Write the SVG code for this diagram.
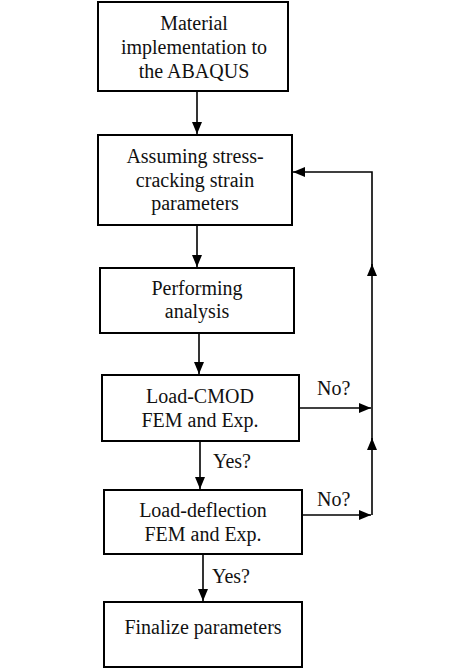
<svg xmlns="http://www.w3.org/2000/svg" width="474" height="669" viewBox="0 0 474 669">
<style>
.box{fill:#fff;stroke:#000;stroke-width:2}
.t{font-family:'Liberation Serif','DejaVu Serif',serif;font-size:20px;fill:#111;text-anchor:middle}
.l{font-family:'Liberation Serif','DejaVu Serif',serif;font-size:20px;fill:#111}
.c{fill:none;stroke:#000;stroke-width:1.6}
</style>
<defs>
<marker id="ah" markerUnits="userSpaceOnUse" markerWidth="13" markerHeight="11" refX="12" refY="5" orient="auto">
<path d="M0,0 L12,5 L0,10 z" fill="#000"/>
</marker>
</defs>
<rect width="474" height="669" fill="#fff"/>
<g id="connectors">
<line class="c" x1="197" y1="91" x2="197" y2="134" marker-end="url(#ah)"/>
<line class="c" x1="197" y1="225" x2="197" y2="267" marker-end="url(#ah)"/>
<line class="c" x1="199" y1="333" x2="199" y2="374" marker-end="url(#ah)"/>
<line class="c" x1="200" y1="441" x2="200" y2="489" marker-end="url(#ah)"/>
<line class="c" x1="203" y1="554" x2="203" y2="601" marker-end="url(#ah)"/>
<line class="c" x1="299" y1="408" x2="371" y2="408" marker-end="url(#ah)"/>
<line class="c" x1="302" y1="515" x2="371" y2="515" marker-end="url(#ah)"/>
<line class="c" x1="372" y1="515" x2="372" y2="438" marker-end="url(#ah)"/>
<line class="c" x1="372" y1="440" x2="372" y2="264" marker-end="url(#ah)"/>
<polyline class="c" points="372,266 372,172 293,172" marker-end="url(#ah)"/>
<text class="l" x="213" y="468">Yes?</text>
<text class="l" x="212" y="583">Yes?</text>
<text class="l" x="317" y="395">No?</text>
<text class="l" x="317" y="506">No?</text>
</g>
<g id="n1">
<rect class="box" x="98" y="2" width="190" height="89"/>
<text class="t" x="194" y="30">Material</text>
<text class="t" x="194" y="54">implementation to</text>
<text class="t" x="194" y="78">the ABAQUS</text>
</g>
<g id="n2">
<rect class="box" x="98" y="135" width="194" height="90"/>
<text class="t" x="195" y="163">Assuming stress-</text>
<text class="t" x="195" y="187">cracking strain</text>
<text class="t" x="195" y="210">parameters</text>
</g>
<g id="n3">
<rect class="box" x="100" y="268" width="194" height="65"/>
<text class="t" x="197" y="295">Performing</text>
<text class="t" x="197" y="318">analysis</text>
</g>
<g id="n4">
<rect class="box" x="102" y="375" width="197" height="66"/>
<text class="t" x="200" y="403">Load-CMOD</text>
<text class="t" x="200" y="427">FEM and Exp.</text>
</g>
<g id="n5">
<rect class="box" x="104" y="490" width="198" height="64"/>
<text class="t" x="203" y="517">Load-deflection</text>
<text class="t" x="203" y="541">FEM and Exp.</text>
</g>
<g id="n6">
<rect class="box" x="104" y="602" width="198" height="65"/>
<text class="t" x="203" y="634">Finalize parameters</text>
</g>
</svg>
